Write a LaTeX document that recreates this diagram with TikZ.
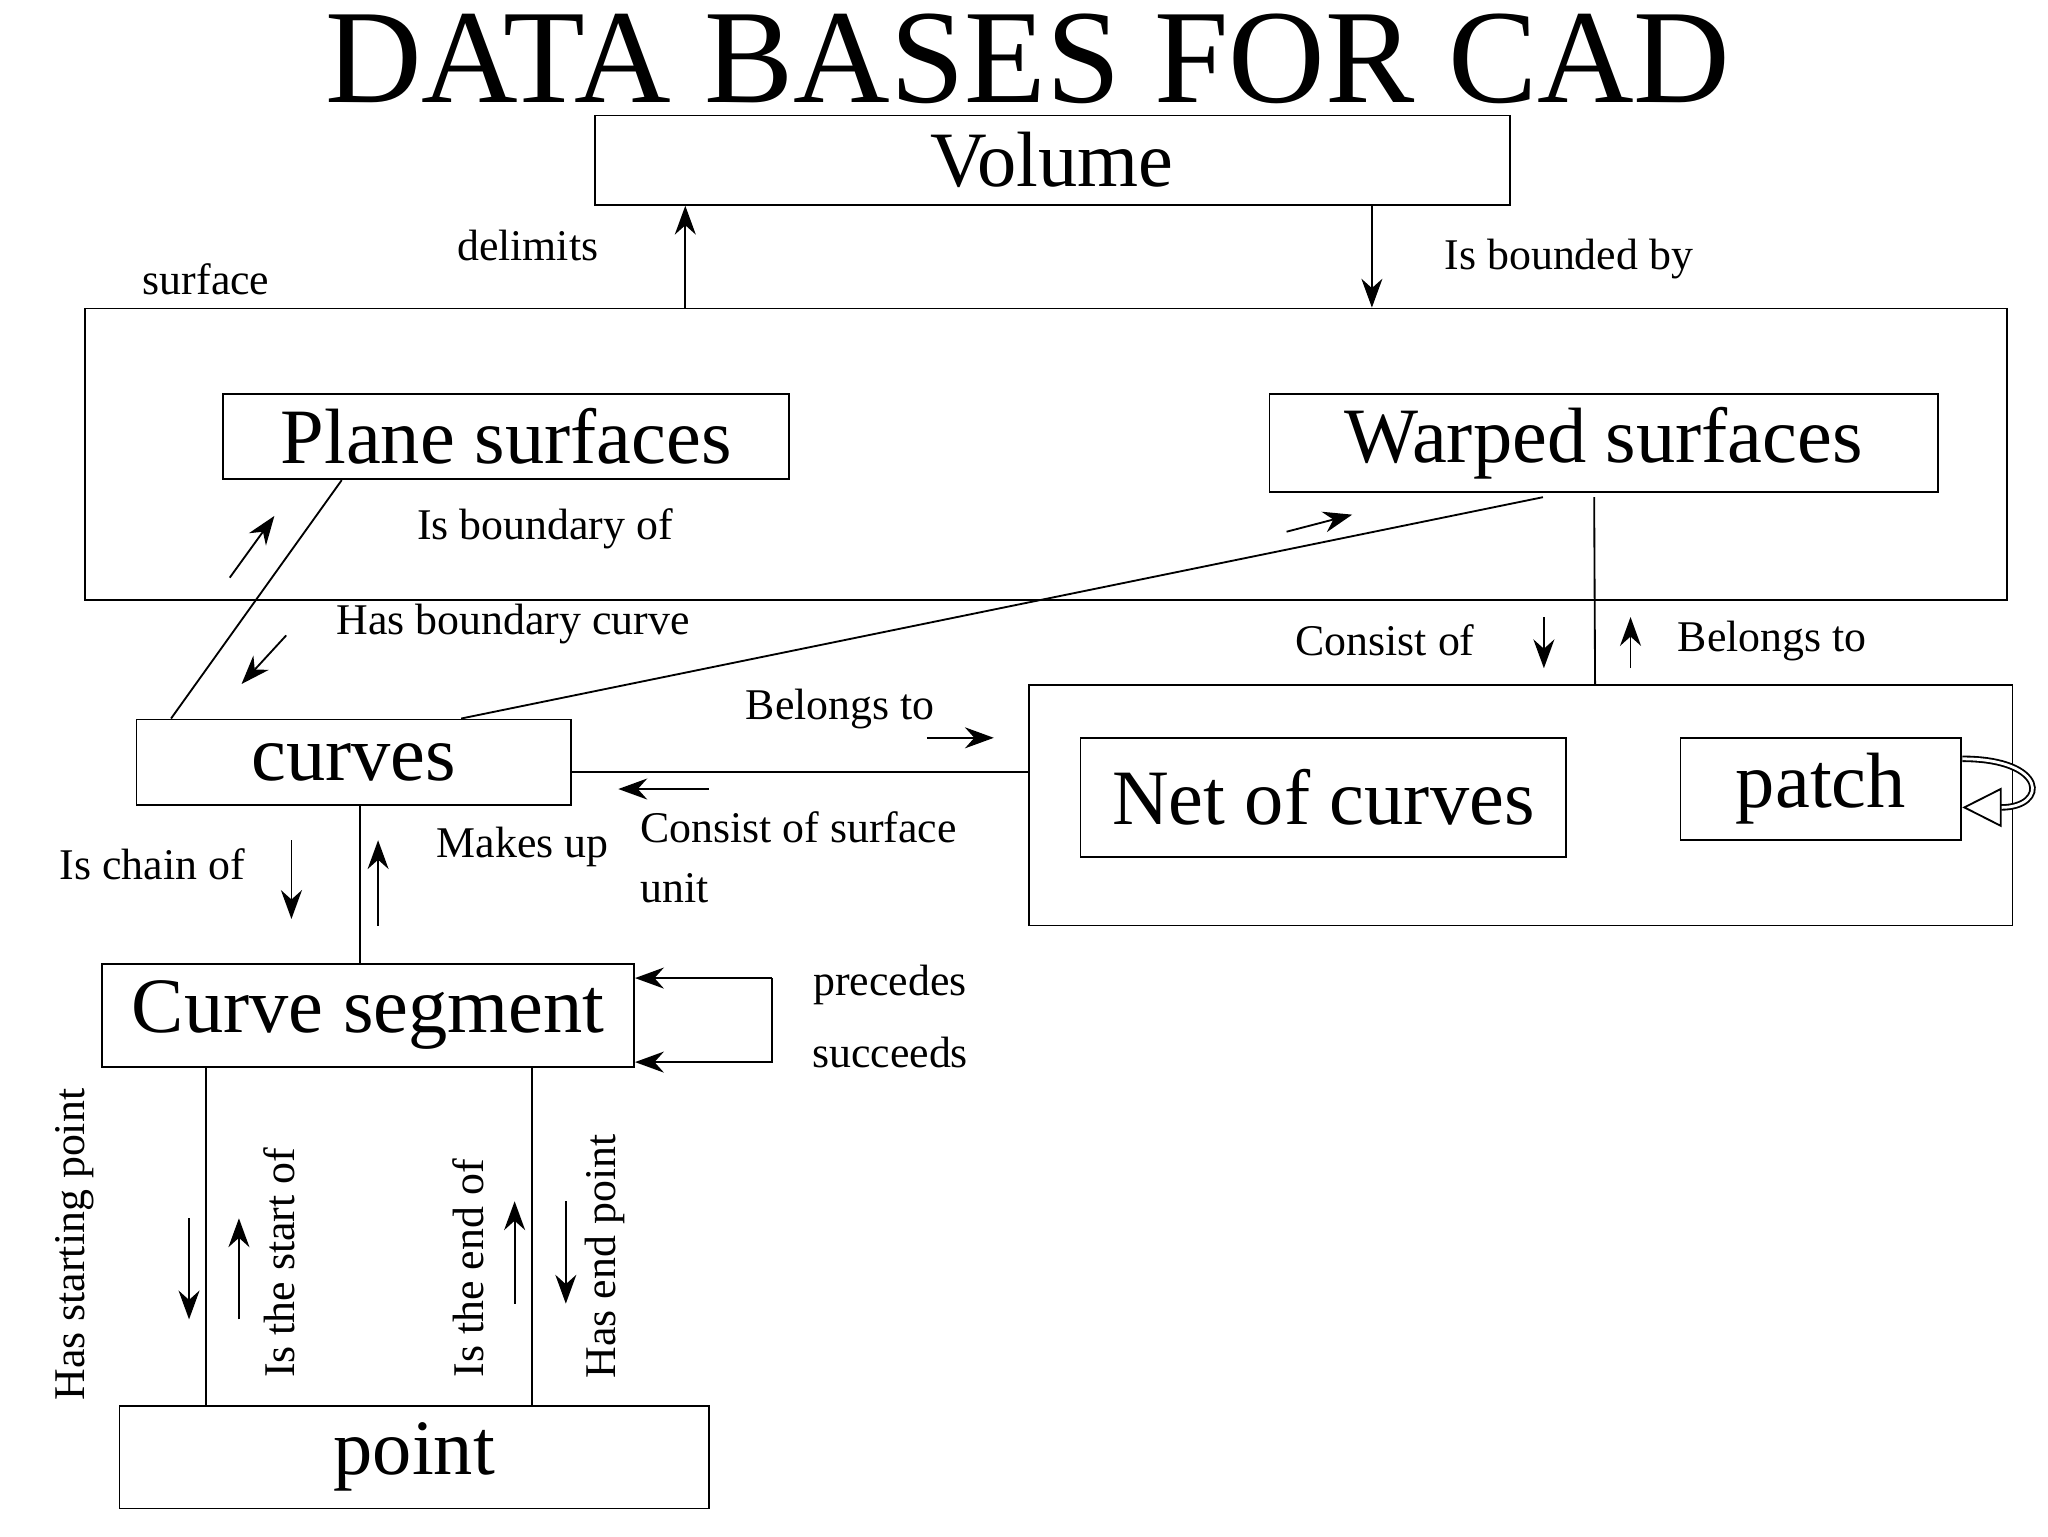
\documentclass[tikz,border=0pt]{standalone}
\usepackage{fontspec}
\setmainfont{Liberation Serif}
\usetikzlibrary{positioning, calc, arrows.meta}

\begin{document}
\begin{tikzpicture}[x=0.1mm, y=-0.1mm]
    \tikzset{
        box/.style={draw, inner sep=0pt, font=\fontsize{17}{20}\selectfont}, % entity boxes
        lbl/.style={inner sep=0pt, font=\fontsize{9.5}{13}\selectfont}, % relation labels
        arr/.style={-{Stealth[length=2.2mm, width=1.6mm]}, thin}, % small direction arrows
    }
    \useasboundingbox (0,0) rectangle (1560,1170);

    \node[font=\fontsize{29}{30}\selectfont] (title) at (783,45) {DATA BASES FOR CAD};

    \node[box, minimum width=6.97cm, minimum height=0.68cm] (vol) at (801.5,122) {Volume};
    \node[draw, minimum width=14.64cm, minimum height=2.22cm] (surf) at (797,346) {};
    \node[box, minimum width=4.31cm, minimum height=0.65cm] (plane) at (385.5,332.5) {Plane surfaces};
    \node[box, minimum width=5.09cm, minimum height=0.75cm] (warped) at (1221.5,337.5) {Warped surfaces};
    \node[box, minimum width=3.31cm, minimum height=0.65cm] (curves) at (269.5,580.5) {curves};
    \node[draw, minimum width=7.49cm, minimum height=1.83cm] (unit) at (1158.5,613.5) {};
    \node[box, minimum width=3.70cm, minimum height=0.91cm] (net) at (1008,607.5) {Net of curves};
    \node[box, minimum width=2.14cm, minimum height=0.78cm] (patch) at (1387,601) {patch};
    \node[box, minimum width=4.05cm, minimum height=0.79cm] (seg) at (280.5,773.5) {Curve segment};
    \node[box, minimum width=4.49cm, minimum height=0.78cm] (pt) at (315.5,1110) {point};

    % volume <-> surface
    \draw[arr] (surf.north -| 522,0) -- (vol.south -| 522,0);
    \draw[arr] (vol.south -| 1045,0) -- (surf.north -| 1045,0);
    \node[lbl] at (157,213) {surface};
    \node[lbl] at (402,187) {delimits};
    \node[lbl] at (1195,197) {Is bounded by};

    % curves <-> surfaces
    \draw ($(curves.north west)+(27,0)$) -- ($(plane.south west)+(91,0)$);
    \draw[arr] (175,440) -- (209,393);
    \draw[arr] (218,484) -- (184,521);
    \node[lbl] at (415,403) {Is boundary of};
    \node[lbl] at (391,475) {Has boundary curve};
    \draw ($(curves.north west)+(248,0)$) -- ($(warped.south west)+(209,3)$);
    \draw[arr] (980,405) -- (1030,392);

    % warped <-> surface unit
    \draw ($(warped.south west)+(248,3)$) -- (unit.north -| 1215,0);
    \draw[arr] (1176,470) -- (1176,509);
    \draw[arr] (1242,509) -- (1242,470);
    \node[lbl] at (1055,488) {Consist of};
    \node[lbl] at (1350,488) {Belongs to};

    % curves <-> surface unit
    \draw (curves.east |- 0,588) -- (unit.west |- 0,588);
    \node[lbl] at (640,540) {Belongs to};
    \draw[arr] (706,562) -- (757,562);
    \draw[arr] (540,601) -- (471,601);
    \node[lbl, align=left, anchor=west] at (487,653) {Consist of surface\\unit};

    % patch self loop
    \draw[double, -{Triangle[open, length=3mm, width=3mm]}] ($(patch.east)+(0,-23)$) .. controls (1560,578) and (1560,615) .. ($(patch.east)+(0,14)$);

    % curves <-> curve segment
    \draw (curves.south -| 274,0) -- (seg.north -| 274,0);
    \draw[arr] (222,640) -- (222,700);
    \draw[arr] (288,705) -- (288,640);
    \node[lbl] at (116,658) {Is chain of};
    \node[lbl] at (398,645) {Makes up};

    % segment self loop
    \coordinate (c1) at (588,745);
    \coordinate (c2) at (588,809);
    \draw[arr] (c1) -- (seg.east |- c1);
    \draw[arr] (c1) -- (c2) -- (seg.east |- c2);
    \node[lbl] at (678,750) {precedes};
    \node[lbl] at (678,802) {succeeds};

    % segment <-> point
    \draw (seg.south -| 157,0) -- (pt.north -| 157,0);
    \draw (seg.south -| 405,0) -- (pt.north -| 405,0);
    \draw[arr] (144,928) -- (144,1005);
    \draw[arr] (182,1005) -- (182,928);
    \draw[arr] (392,993) -- (392,915);
    \draw[arr] (431,915) -- (431,993);
    \node[lbl, rotate=90] at (57,948) {Has starting point};
    \node[lbl, rotate=90] at (213,962) {Is the start of};
    \node[lbl, rotate=90] at (357,966) {Is the end of};
    \node[lbl, rotate=90] at (461,957) {Has end point};
\end{tikzpicture}
\end{document}
